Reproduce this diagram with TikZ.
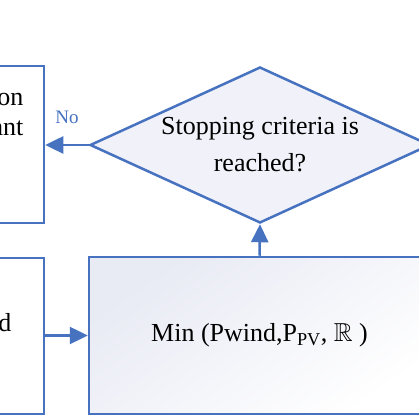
\documentclass[tikz,border=0pt]{standalone}
\usepackage{fontspec}
\setmainfont{Liberation Serif}
\usepackage{amssymb}
\usetikzlibrary{shapes.geometric,arrows.meta}
\definecolor{flowblue}{HTML}{4672C0}
\definecolor{paleblue}{HTML}{F0F1F9}
\definecolor{shadeblue}{HTML}{E8EAF4}
\begin{document}
\begin{tikzpicture}
    [
        x=1pt, y=1pt,
        plainbox/.style={rectangle, draw=flowblue, line width=2.5pt, fill=white, inner sep=0pt},
        decision/.style={diamond, draw=flowblue, line width=2.5pt, fill=paleblue, inner sep=0pt},
        flowarrow/.style={draw=flowblue, line width=2.5pt, -{Triangle[length=18pt,width=17pt]}},
        bigtext/.style={font=\fontsize{26}{37}\selectfont, align=center},
    ]
    \clip (0,0) rectangle (419,419);
    \fill [white] (0,0) rectangle (419,419);
    % boxes cut by the page edge
    \node (evalbox) at (-60,274.5) [plainbox, minimum width=208pt, minimum height=157pt] {};
    \node (evaltext) at (27,304) [anchor=east, align=right, font=\fontsize{26}{30}\selectfont] {on\\ant};
    \node (inputbox) at (-60,83) [plainbox, minimum width=208pt, minimum height=156pt] {};
    \node (inputtext) at (15,96) [anchor=east, font=\fontsize{26}{30}\selectfont] {d};
    % optimisation and check
    \node (minbox) at (259.5,83.5) [plainbox, top color=shadeblue, bottom color=white, shading angle=35,
        minimum width=341pt, minimum height=157pt, bigtext] {Min (Pwind,P\textsubscript{PV}, $\mathbb{R}$ )};
    \node (check) at (260,274) [decision, minimum width=340pt, minimum height=156pt,
        label={[bigtext]center:Stopping criteria is\\reached?}] {};
    \draw [flowarrow] (inputbox.east |- minbox.west) -- (minbox.west);
    \draw [flowarrow] (minbox.north) -- (check.south);
    \draw [flowarrow] (check.west) -- (check.west -| evalbox.east)
        node (nolabel) [midway, above=17pt, text=flowblue, font=\fontsize{19}{22}\selectfont] {No};
\end{tikzpicture}
\end{document}
